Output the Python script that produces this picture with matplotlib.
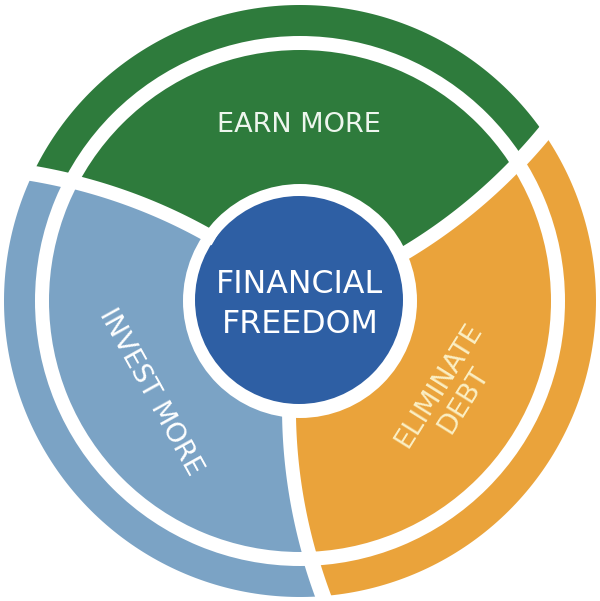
import matplotlib
matplotlib.use("Agg")
import matplotlib.pyplot as plt
from matplotlib.patches import Polygon, Circle, Wedge
import numpy as np

# segments, counter-clockwise starting at the green/orange split
labels = ["EARN MORE", "INVEST MORE", "ELIMINATE\nDEBT"]
shares = [1, 1, 1]
colors = ["#2e7b3c", "#7ba3c5", "#eaa33b"]
text_colors = ["#eef6ee", "#ffffff", "#fbefc4"]
center_lines = ["FINANCIAL", "FREEDOM"]

start_deg = 30.0
cx, cy = 300, 301
r_disc = 296
r_ring_in, r_ring_out = 251, 265
r_hub_white, r_hub = 117, 104


def twist(r):
    # dividers follow a slight spiral (angle grows with radius)
    return -5.2 + 0.055 * (r - 120)


def xy(r, a_deg):
    a = np.radians(a_deg)
    return cx + r * np.cos(a), cy - r * np.sin(a)


fig = plt.figure(figsize=(6.0, 6.01), dpi=100)
ax = fig.add_axes([0, 0, 1, 1])
ax.set_xlim(0, 600)
ax.set_ylim(601, 0)
ax.axis("off")

fracs = np.array(shares, dtype=float) / sum(shares)
bounds = start_deg + 360 * np.concatenate([[0], np.cumsum(fracs)])

rs = np.linspace(100, r_disc, 80)
for i, col in enumerate(colors):
    a0, a1 = bounds[i], bounds[i + 1]
    pts = [xy(r, a0 + twist(r)) for r in rs]
    arc = np.linspace(a0 + twist(r_disc), a1 + twist(r_disc), 120)
    pts += [xy(r_disc, a) for a in arc]
    pts += [xy(r, a1 + twist(r)) for r in rs[::-1]]
    ax.add_patch(Polygon(pts, closed=True, facecolor=col, edgecolor="none"))

# white ring between inner pieces and outer band
ax.add_patch(Wedge((cx, cy), r_ring_out, 0, 360, width=r_ring_out - r_ring_in,
                   facecolor="white", edgecolor="none"))

# white dividers
for b in bounds[:-1]:
    r_in = np.linspace(105, 258, 60)
    p = np.array([xy(r, b + twist(r)) for r in r_in])
    ax.plot(p[:, 0], p[:, 1], color="white", lw=10.0, solid_capstyle="butt")
    r_out = np.linspace(258, 310, 30)
    p = np.array([xy(r, b + twist(r)) for r in r_out])
    ax.plot(p[:, 0], p[:, 1], color="white", lw=11.2, solid_capstyle="butt")

ax.add_patch(Circle((cx, cy), r_hub_white, facecolor="white", edgecolor="none"))
ax.add_patch(Circle((cx - 1, cy - 1), r_hub, facecolor="#2e5fa4", edgecolor="none"))

# labels
ax.text(299, 132, labels[0], color=text_colors[0], fontsize=19.5,
        ha="center", va="baseline", family="DejaVu Sans")
ax.text(150, 392, labels[1], color=text_colors[1], fontsize=19.5,
        ha="center", va="center", rotation=-61, rotation_mode="anchor",
        family="DejaVu Sans")
ax.text(451, 393, labels[2], color=text_colors[2], fontsize=19.5,
        ha="center", va="center", rotation=58, rotation_mode="anchor",
        linespacing=1.15, multialignment="center", family="DejaVu Sans")

ax.text(299, 293, center_lines[0], color="white", fontsize=22.8,
        ha="center", va="baseline", family="DejaVu Sans")
ax.text(300, 333, center_lines[1], color="white", fontsize=22.8,
        ha="center", va="baseline", family="DejaVu Sans")

fig.savefig("out.png", dpi=100, facecolor="white")
